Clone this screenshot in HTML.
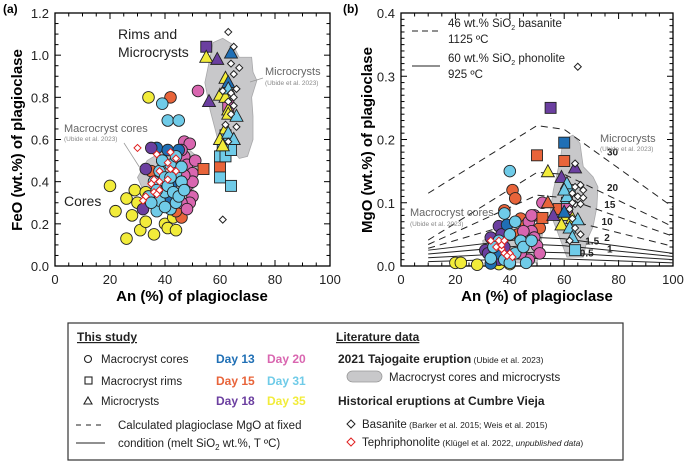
<!DOCTYPE html>
<html><head><meta charset="utf-8"><style>
body{margin:0;background:#fff;width:685px;height:463px;overflow:hidden;font-family:"Liberation Sans",sans-serif}
svg{position:absolute;left:0;top:0}
text{font-family:"Liberation Sans",sans-serif}
</style></head><body>
<svg id="s" width="685" height="463"></svg>
<script>
// ---------- data ----------
const xTicks=[0,20,40,60,80,100];
const feoTicks=[0.0,0.2,0.4,0.6,0.8,1.0,1.2];
const mgoTicks=[0.0,0.1,0.2,0.3,0.4];
const dayColors={13:'#1f6fb5',15:'#e8643a',18:'#6b3fa0',20:'#d966b0',31:'#6fcbe8',35:'#f2ec3a'};
// left panel: [An, FeO, day]
const feoCores=[[20,.38,35],[22,.26,35],[26,.13,35],[26,.32,35],[28,.24,35],[29,.36,35],[31,.17,35],[33,.21,35],[34,.80,35],[36,.15,35],[40,.2,35],[41,.18,35],[44,.17,35],[43,.23,35],[30,.3,35],[33,.35,35],
[42,.80,15],[46,.23,15],[35,.45,15],[44,.26,15],
[52,.83,20],[47,.59,20],[49,.58,20],[47,.52,20],[48,.48,20],[50,.44,20],[48,.38,20],[50,.33,20],[49,.3,20],[46,.3,20],[48,.27,20],[50,.4,20],[51,.5,20],[47,.43,20],[46,.55,20],
[37,.56,13],[39,.5,13],[41,.55,13],[43,.4,13],[36,.32,13],[42,.32,13],[45,.55,13],
[35,.56,18],[32,.27,18],[37,.29,18],[33,.46,18],[40,.36,18],
[39,.77,31],[41,.69,31],[45,.69,31],[34,.33,31],[37,.26,31],[38,.31,31],[40,.35,31],[42,.27,31],[44,.3,31],[36,.4,31],[38,.45,31],[40,.42,31],[42,.48,31],[44,.44,31],[46,.4,31],[39,.5,31],[41,.38,31],[43,.35,31],[45,.33,31],[47,.36,31],[37,.36,31],[35,.3,31],[44,.52,31],[40,.28,31],[42,.42,31],[46,.47,31]];
const feoRims=[[55,1.04,18],[54,.46,15],[60,.47,15],[63,.76,20],[60,.52,31],[62,.52,31],[60,.42,31],[64,.38,31],[64,.55,31],[62,.62,31],[61,.58,31]];
const feoMicro=[[55,.99,35],[62,.89,35],[60,.81,35],[62,.8,35],[63,.74,35],[62,.65,35],[60,.6,35],[61,.57,35],[63,.72,35],[59,.98,18],[56,.78,18],[64,1.01,13],[63,.87,13],[66,.71,31],[63,.63,31],[63,.84,31],[65,.6,31]];
const feoBasanite=[[63,1.11],[65,1.04],[64,.96],[67,.94],[65,.91],[66,.84],[61,.83],[64,.82],[63,.78],[65,.76],[66,.66],[64,.72],[62,.67],[61,.22],[63,.59],[65,.8]];
const feoTephri=[[30,.56],[37,.53],[42,.54],[44,.51],[41,.49],[38,.45],[42,.46],[44,.45],[36,.41],[38,.4],[41,.41],[35,.39],[38,.36],[36,.35],[33,.33],[32,.31],[37,.34]];
const feoMicroRegion=[[54.5,.87],[57.5,1.06],[61,1.08],[64.7,1.05],[67,.99],[71.5,.99],[72,.92],[73.4,.88],[71.5,.80],[72,.71],[72,.60],[70,.52],[67,.51],[64.7,.55],[59,.61],[56.4,.74]];
const feoCoreRegion=[[30,.42],[33.5,.5],[40,.55],[48,.56],[51.6,.52],[51.6,.4],[48,.3],[45.5,.28],[38,.3],[33,.33]];
// right panel: [An, MgO, day]
const mgoCores=[[20,.005,35],[22,.005,35],[28,.002,35],[40,.003,35],[36,.003,35],
[41,.12,15],[42,.107,15],[38,.088,15],[44,.075,15],[51,.06,15],[46,.065,15],[38,.06,15],[43,.05,15],
[49,.08,20],[52,.1,20],[47,.07,20],[48,.055,20],[49,.045,20],[50,.032,20],[51,.02,20],[47,.01,20],[45,.055,20],[44,.02,20],[48,.08,20],
[36,.063,18],[33,.045,18],[37,.05,18],[31,.025,18],[36,.01,18],[32,.02,18],[38,.03,18],
[33,.004,13],[39,.065,13],[36,.02,13],
[40,.15,31],[38,.083,31],[42,.07,31],[40,.05,31],[44,.04,31],[36,.04,31],[33,.012,31],[38,.01,31],[42,.02,31],[46,.005,31],[45,.03,31],[48,.04,31],[34,.03,31],[40,.005,31]];
const mgoRims=[[55,.25,18],[60,.195,13],[50,.175,15],[60,.166,15],[52,.076,15],[58,.09,15],[64,.025,31],[62,.12,31],[61,.1,31],[61,.09,20]];
const mgoMicro=[[54,.149,35],[60,.08,35],[59,.065,35],[63,.075,35],[54,.10,15],[59,.14,18],[56,.08,18],[64,.155,18],[61,.13,31],[65,.073,31],[62,.06,31],[63,.045,31],[61,.11,31],[60,.12,31],[60,.085,13]];
const mgoBasanite=[[65,.315],[64,.162],[66,.128],[64,.125],[67,.12],[63,.115],[65,.11],[67,.108],[64,.098],[66,.098],[62,.09],[63,.075],[64,.06],[62,.04],[66,.05],[63,.1]];
const mgoTephri=[[33,.04],[36,.04],[38,.04],[35,.03],[37,.027],[38,.02],[40,.02],[39,.016],[41,.014],[37,.033]];
const mgoMicroRegion=[[59.6,.199],[63.2,.207],[65.8,.194],[67,.157],[70.6,.141],[72.4,.125],[72,.093],[70.6,.062],[68.4,.041],[67,.014],[61,.014],[57.7,.052],[54.8,.084],[56,.12],[58.5,.167]];
const mgoCoreRegion=[[30,.04],[38,.06],[48,.07],[52,.05],[50,.005],[32,.005]];
const curveAn=[10,50,60,100];
const curveLabels=['30','20','15','10','2','1.5','1','0.5'];
const curveVals=[[0.115,0.222,0.216,0.093],[0.041,0.148,0.145,0.062],[0.034,0.112,0.108,0.047],[0.028,0.078,0.074,0.031],[0.025,0.045,0.043,0.02],[0.019,0.034,0.032,0.015],[0.013,0.022,0.021,0.01],[0.007,0.012,0.011,0.005]];
const curveDashed=[true,true,true,true,false,false,false,false];
const curveLabelAn=[75,75,74,73,74,67,75,65];

// ---------- helpers ----------
const NS='http://www.w3.org/2000/svg';
const S=document.getElementById('s');
function el(tag,attrs,parent){const e=document.createElementNS(NS,tag);for(const k in attrs)e.setAttribute(k,attrs[k]);(parent||S).appendChild(e);return e;}
function txt(x,y,s,attrs,parent){const t=el('text',Object.assign({x:x,y:y},attrs||{}),parent);t.innerHTML=s;return t;}
function panel(x0,x1,y0,y1,ymax){return{x:a=>x0+(x1-x0)*a/100,y:v=>y0-(y0-y1)*v/ymax,x0,x1,y0,y1};}
const L=panel(55,330,266,13,1.2);
const R=panel(401,673,266,13,0.4);

function axes(P,yTicks,dec,minorY,ymax,name){
  const g=el('g',{});
  
  
  el('rect',{x:P.x0,y:P.y1,width:P.x1-P.x0,height:P.y0-P.y1,fill:'none',stroke:'#000','stroke-width':1.3},g);
  for(let a=0;a<=100;a+=5){const X=P.x(a),len=a%20==0?6:3.5;
    el('line',{x1:X,x2:X,y1:P.y0,y2:P.y0-len,stroke:'#000','stroke-width':1},g);
    el('line',{x1:X,x2:X,y1:P.y1,y2:P.y1+len,stroke:'#000','stroke-width':1},g);}
  xTicks.forEach(a=>{const t=txt(P.x(a),284,a,{'font-size':13,'text-anchor':'middle',fill:'#222'},g);});
  for(let v=0;v<=ymax+1e-9;v+=minorY){const Y=P.y(v);const major=yTicks.some(t=>Math.abs(t-v)<1e-6);const len=major?6:3.5;
    el('line',{x1:P.x0,x2:P.x0+len,y1:Y,y2:Y,stroke:'#000','stroke-width':1},g);
    el('line',{x1:P.x1,x2:P.x1-len,y1:Y,y2:Y,stroke:'#000','stroke-width':1},g);}
  yTicks.forEach(v=>{const t=txt(P.x0-6,P.y(v)+5,v.toFixed(1),{'font-size':13,'text-anchor':'end',fill:'#222'},g);});
}
function region(P,pts,name){const p=el('polygon',{points:pts.map(q=>P.x(q[0])+','+P.y(q[1])).join(' '),fill:'#c8c8ca',stroke:'#a8a8aa','stroke-width':0.8});
  }
function marker(P,d,shape,g){const X=P.x(d[0]),Y=P.y(d[1]),c=dayColors[d[2]];let m;
  if(shape=='c')m=el('circle',{cx:X,cy:Y,r:5.8,fill:c,stroke:'#222','stroke-width':0.9},g);
  else if(shape=='s')m=el('rect',{x:X-5.5,y:Y-5.5,width:11,height:11,fill:c,stroke:'#222','stroke-width':0.9},g);
  else m=el('polygon',{points:`${X},${Y-7} ${X+6.5},${Y+5} ${X-6.5},${Y+5}`,fill:c,stroke:'#222','stroke-width':0.9},g);
  return m;}
function diamond(P,d,col,g){const X=P.x(d[0]),Y=P.y(d[1]);return el('polygon',{points:`${X},${Y-3.5} ${X+3.5},${Y} ${X},${Y+3.5} ${X-3.5},${Y}`,fill:'#fff',stroke:col,'stroke-width':1},g);}
function series(P,cores,rims,micro,bas,teph,pfx){
  const g=el('g',{});
  
  
  cores.forEach(d=>{const m=marker(P,d,'c',g);});
  teph.forEach(d=>{const m=diamond(P,d,'#e02020',g);});
  rims.forEach(d=>{const m=marker(P,d,'s',g);});
  micro.forEach(d=>{const m=marker(P,d,'t',g);});
  bas.forEach(d=>{const m=diamond(P,d,'#222',g);});
}

// ---------- left panel ----------
region(L,feoCoreRegion,'macrocryst-core-region');
region(L,feoMicroRegion,'microcryst-region');
axes(L,feoTicks,1,0.05,1.2,'left');
series(L,feoCores,feoRims,feoMicro,feoBasanite,feoTephri,'left');
txt(3,13,'(a)',{'font-size':12,'font-weight':'bold'});
let t=txt(22,140,'FeO (wt.%) of plagioclase',{'font-size':15,'font-weight':'bold','text-anchor':'middle',transform:'rotate(-90 22 140)'});

t=txt(192,301,'An (%) of plagioclase',{'font-size':15,'font-weight':'bold','text-anchor':'middle'});

txt(118,39,'Rims and',{'font-size':14,fill:'#222'});
txt(118,57,'Microcrysts',{'font-size':14,fill:'#222'});
txt(64,206,'Cores',{'font-size':14,fill:'#222'});
txt(265,75,'Microcrysts',{'font-size':11,fill:'#666'});
txt(265,85,'(Ubide et al. 2023)',{'font-size':6.5,fill:'#888'});
txt(64,132,'Macrocryst cores',{'font-size':11,fill:'#666'});
txt(64,141,'(Ubide et al. 2023)',{'font-size':6.5,fill:'#888'});
el('line',{x1:124,y1:143,x2:140,y2:168,stroke:'#999','stroke-width':0.8});
el('line',{x1:263,y1:78,x2:250,y2:82,stroke:'#999','stroke-width':0.8});

// ---------- right panel ----------
region(R,mgoCoreRegion,'macrocryst-core-region-right');
region(R,mgoMicroRegion,'microcryst-region-right');
axes(R,mgoTicks,1,0.01,0.4,'right');
curveVals.forEach((vals,i)=>{const p=el('polyline',{points:curveAn.map((a,j)=>R.x(a)+','+R.y(vals[j])).join(' '),fill:'none',stroke:'#222','stroke-width':1,'stroke-dasharray':curveDashed[i]?'7,5':'none'});
  
  const a=curveLabelAn[i];let k=a<=60?1:2;const f=(a-curveAn[k])/(curveAn[k+1]-curveAn[k]);const v=vals[k]+f*(vals[k+1]-vals[k]);
  const lb=txt(R.x(a)+2,R.y(v)-3,curveLabels[i],{'font-size':10,fill:'#222','font-weight':'bold'});
  });
series(R,mgoCores,mgoRims,mgoMicro,mgoBasanite,mgoTephri,'right');
txt(343,13,'(b)',{'font-size':12,'font-weight':'bold'});
t=txt(372,140,'MgO (wt.%) of plagioclase',{'font-size':15,'font-weight':'bold','text-anchor':'middle',transform:'rotate(-90 372 140)'});

t=txt(537,301,'An (%) of plagioclase',{'font-size':15,'font-weight':'bold','text-anchor':'middle'});

el('line',{x1:412,x2:440,y1:31,y2:31,stroke:'#222','stroke-width':1,'stroke-dasharray':'6,4'});
txt(448,27,'46 wt.% SiO<tspan font-size="7" dy="3">2</tspan><tspan dy="-3"> basanite</tspan>',{'font-size':11.5,fill:'#222'});
txt(448,43,'1125 ºC',{'font-size':11.5,fill:'#222'});
el('line',{x1:412,x2:440,y1:66,y2:66,stroke:'#222','stroke-width':1});
txt(448,62,'60 wt.% SiO<tspan font-size="7" dy="3">2</tspan><tspan dy="-3"> phonolite</tspan>',{'font-size':11.5,fill:'#222'});
txt(448,78,'925 ºC',{'font-size':11.5,fill:'#222'});
txt(600,142,'Microcrysts',{'font-size':11,fill:'#666'});
txt(600,151,'(Ubide et al. 2023)',{'font-size':6.5,fill:'#888'});
txt(410,216,'Macrocryst cores',{'font-size':11,fill:'#666'});
txt(410,226,'(Ubide et al. 2023)',{'font-size':6.5,fill:'#888'});

// ---------- legend ----------
const lg=el('g',{});


el('rect',{x:68,y:323,width:555,height:137,fill:'#fff',stroke:'#333','stroke-width':1.2},lg);
txt(77,341,'This study',{'font-size':12,'font-weight':'bold','text-decoration':'underline',fill:'#222'},lg);
txt(336,341,'Literature data',{'font-size':12,'font-weight':'bold','text-decoration':'underline',fill:'#222'},lg);
el('circle',{cx:88,cy:359,r:3.5,fill:'none',stroke:'#222','stroke-width':1.1},lg);
txt(101,363,'Macrocryst cores',{'font-size':11.5,fill:'#222'},lg);
el('rect',{x:85,y:377,width:7,height:7,fill:'none',stroke:'#222','stroke-width':1.1},lg);
txt(101,385,'Macrocryst rims',{'font-size':11.5,fill:'#222'},lg);
el('polygon',{points:'88,397 92,404 84,404',fill:'none',stroke:'#222','stroke-width':1.1},lg);
txt(101,405,'Microcrysts',{'font-size':11.5,fill:'#222'},lg);
[[216,363,'Day 13',13],[267,363,'Day 20',20],[216,385,'Day 15',15],[267,385,'Day 31',31],[216,405,'Day 18',18],[267,405,'Day 35',35]].forEach(d=>{
  const e=txt(d[0],d[1],d[2],{'font-size':12,'font-weight':'bold',fill:dayColors[d[3]]},lg);
  });
el('line',{x1:76,x2:105,y1:425,y2:425,stroke:'#222','stroke-width':1,'stroke-dasharray':'5,5'},lg);
txt(118,429,'Calculated plagioclase MgO at fixed',{'font-size':11.5,fill:'#222'},lg);
el('line',{x1:76,x2:105,y1:443,y2:443,stroke:'#222','stroke-width':1},lg);
txt(118,447,'condition (melt SiO<tspan font-size="8" dy="3">2</tspan><tspan dy="-3"> wt.%, T ºC)</tspan>',{'font-size':11.5,fill:'#222'},lg);
txt(338,363,'<tspan font-weight="bold">2021 Tajogaite eruption</tspan><tspan font-size="8.5"> (Ubide et al. 2023)</tspan>',{'font-size':12,fill:'#222'},lg);
el('rect',{x:347,y:371,width:35,height:11,rx:5.5,fill:'#c8c8ca',stroke:'#999','stroke-width':0.8},lg);
txt(389,381,'Macrocryst cores and microcrysts',{'font-size':11.5,fill:'#222'},lg);
txt(338,405,'Historical eruptions at Cumbre Vieja',{'font-size':12,'font-weight':'bold',fill:'#222'},lg);
el('polygon',{points:'351,420 355,424 351,428 347,424',fill:'#fff',stroke:'#222','stroke-width':1},lg);
txt(362,428,'Basanite<tspan font-size="8.5"> (Barker et al. 2015; Weis et al. 2015)</tspan>',{'font-size':11.5,fill:'#222'},lg);
el('polygon',{points:'351,438 355,442 351,446 347,442',fill:'#fff',stroke:'#e02020','stroke-width':1},lg);
txt(362,446,'Tephriphonolite<tspan font-size="8.5"> (Klügel et al. 2022, <tspan font-style="italic">unpublished data</tspan>)</tspan>',{'font-size':11.5,fill:'#222'},lg);
</script>
</body></html>
